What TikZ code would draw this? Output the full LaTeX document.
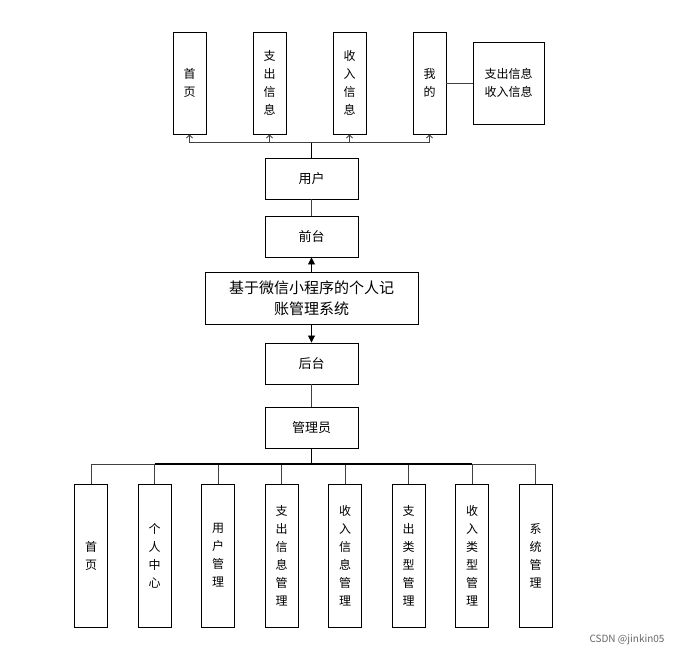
\documentclass[tikz,border=0pt]{standalone}
\usepackage{fontspec}
\setmainfont{Noto Sans CJK SC}
\usetikzlibrary{arrows.meta}
\begin{document}
\begin{tikzpicture}[x=1pt,y=-1pt,
 bx/.style={draw,line width=0.9pt,inner sep=0pt,font=\fontsize{12}{18}\selectfont,align=center},
 vb/.style={bx,minimum width=33pt,minimum height=102pt},
 hb/.style={bx,minimum width=93pt,minimum height=41pt,font=\fontsize{13}{16}\selectfont},
 ln/.style={line width=0.8pt,draw=black!75},
 ar/.style={ln,-{Straight Barb[length=3pt,width=6pt]}}]
\useasboundingbox (0,0) rectangle (680,656);
\node[vb] (t1) at (189.5,83) {首\\页};
\node[vb] (t2) at (269.5,83) {支\\出\\信\\息};
\node[vb] (t3) at (349.5,83) {收\\入\\信\\息};
\node[vb] (t4) at (429.5,83) {我\\的};
\node[bx,minimum width=71pt,minimum height=82pt] (tr) at (508.5,83) {支出信息\\收入信息};
\draw[ln] (t4) -- (tr);
\node[hb] (u) at (311.5,178.5) {用户};
\node[hb] (q) at (311.5,236.5) {前台};
\node[bx,minimum width=213pt,minimum height=52pt,font=\fontsize{15}{21}\selectfont] (m) at (311.5,298) {基于微信小程序的个人记\\账管理系统};
\node[hb] (h) at (311.5,363.5) {后台};
\node[hb] (g) at (311.5,428) {管理员};
\coordinate (tb) at (311.5,142);
\draw[line width=1.8pt] (u.north) -- (tb);
\foreach \t in {t1,t2,t3,t4}{\draw[ar] (tb) -| (\t.south);}
\draw[ln] (u) -- (q);
\draw[line width=0.8pt,-{Triangle[length=7pt,width=7pt]}] (m) -- (q);
\draw[line width=0.8pt,-{Triangle[length=7pt,width=7pt]}] (m) -- (h);
\draw[ln] (h) -- (g);
\coordinate (bb) at (311.5,464);
\draw[line width=1.8pt] (g.south) -- (bb);
\foreach \n/\x/\s in {b1/91/首\\页,b2/154.5/个\\人\\中\\心,b3/218/用\\户\\管\\理,b4/281.5/支\\出\\信\\息\\管\\理,b5/345/收\\入\\信\\息\\管\\理,b6/408.5/支\\出\\类\\型\\管\\理,b7/472/收\\入\\类\\型\\管\\理,b8/535.5/系\\统\\管\\理}{
 \node[vb,minimum height=143pt] (\n) at (\x,555.5) {\s};
 \draw[ln] (bb) -| (\n.north);}
\draw[line width=1.4pt] (154.5,464) -- (472,464);
\node[font=\fontsize{10}{11}\selectfont,text=black!60,anchor=east] (c) at (668,640) {CSDN @jinkin05};
\end{tikzpicture}
\end{document}
